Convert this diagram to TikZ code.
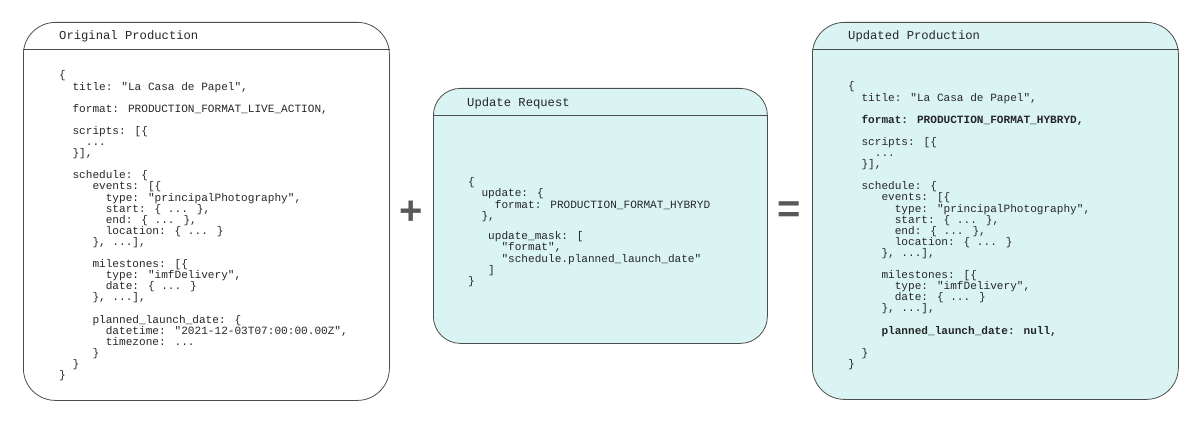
\documentclass[tikz,border=0pt]{standalone}
\usepackage{fontspec}
\setmainfont{Liberation Sans}
\newfontfamily\codefont{Liberation Mono}
\tikzset{
  panel/.style={draw=black!70, line width=0.8pt, anchor=north west},
  code/.style={anchor=base west, inner sep=0pt, align=left, text=black!85, font=\codefont\fontsize{11.1}{11.1}\selectfont},
  head/.style={anchor=base west, inner sep=0pt, text=black!85, font=\codefont\fontsize{12.2}{14}\selectfont},
  sign/.style={inner sep=0pt, text=black!65, font=\bfseries\fontsize{40}{40}\selectfont}
}
\begin{document}
\begin{tikzpicture}[x=1pt,y=-1pt]
\definecolor{panelfill}{RGB}{218,244,244}
\useasboundingbox (0,0) rectangle (1200,422);
\node[panel, rounded corners=32pt, minimum width=366pt, minimum height=378pt] (orig) at (23,22) {};
\node[panel, rounded corners=27pt, fill=panelfill, minimum width=334pt, minimum height=255pt] (req) at (433,88) {};
\node[panel, rounded corners=32pt, fill=panelfill, minimum width=366pt, minimum height=377pt] (upd) at (812,22) {};
\foreach \b in {orig,req,upd}
  \draw[black!70, line width=0.8pt] ([yshift=-27.5pt]\b.north west) -- ([yshift=-27.5pt]\b.north east);
\node[head] (origtitle) at (59,39.5) {Original Production};
\node[head] (reqtitle) at (467,106.5) {Update Request};
\node[head] (updtitle) at (848,39.5) {Updated Production};
% base anchor of a multi-line node sits on its last line
\node[code] (origcode) at (59,378.6) {\{\\
~~title: "La Casa de Papel",\\[11.1pt]
~~format: PRODUCTION\_FORMAT\_LIVE\_ACTION,\\[11.1pt]
~~scripts: [\{\\
~~~~...\\
~~\}],\\[11.1pt]
~~schedule: \{\\
~~~~~events: [\{\\
~~~~~~~type: "principalPhotography",\\
~~~~~~~start: \{ ... \},\\
~~~~~~~end: \{ ... \},\\
~~~~~~~location: \{ ... \}\\
~~~~~\}, ...],\\[11.1pt]
~~~~~milestones: [\{\\
~~~~~~~type: "imfDelivery",\\
~~~~~~~date: \{ ... \}\\
~~~~~\}, ...],\\[11.1pt]
~~~~~planned\_launch\_date: \{\\
~~~~~~~datetime: "2021-12-03T07:00:00.00Z",\\
~~~~~~~timezone: ...\\
~~~~~\}\\
~~\}\\
\}};
\node[code, font=\codefont\fontsize{11.1}{11.4}\selectfont] (reqcode) at (468,285) {\{\\
~~update: \{\\
~~~~format: PRODUCTION\_FORMAT\_HYBRYD\\
~~\},\\[8.5pt]
~~~update\_mask: [\\
~~~~~"format",\\
~~~~~"schedule.planned\_launch\_date"\\
~~~]\\
\}};
\node[code] (updcode) at (848,367.4) {\{\\
~~title: "La Casa de Papel",\\[11.1pt]
~~\textbf{format: PRODUCTION\_FORMAT\_HYBRYD,}\\[11.1pt]
~~scripts: [\{\\
~~~~...\\
~~\}],\\[11.1pt]
~~schedule: \{\\
~~~~~events: [\{\\
~~~~~~~type: "principalPhotography",\\
~~~~~~~start: \{ ... \},\\
~~~~~~~end: \{ ... \},\\
~~~~~~~location: \{ ... \}\\
~~~~~\}, ...],\\[11.1pt]
~~~~~milestones: [\{\\
~~~~~~~type: "imfDelivery",\\
~~~~~~~date: \{ ... \}\\
~~~~~\}, ...],\\[11.1pt]
~~~~~\textbf{planned\_launch\_date: null,}\\[11.1pt]
~~\}\\
\}};
\node[sign] (plus) at (411.5,213) {+};
\node[sign] (eq) at (789,212.5) {=};
\end{tikzpicture}
\end{document}
